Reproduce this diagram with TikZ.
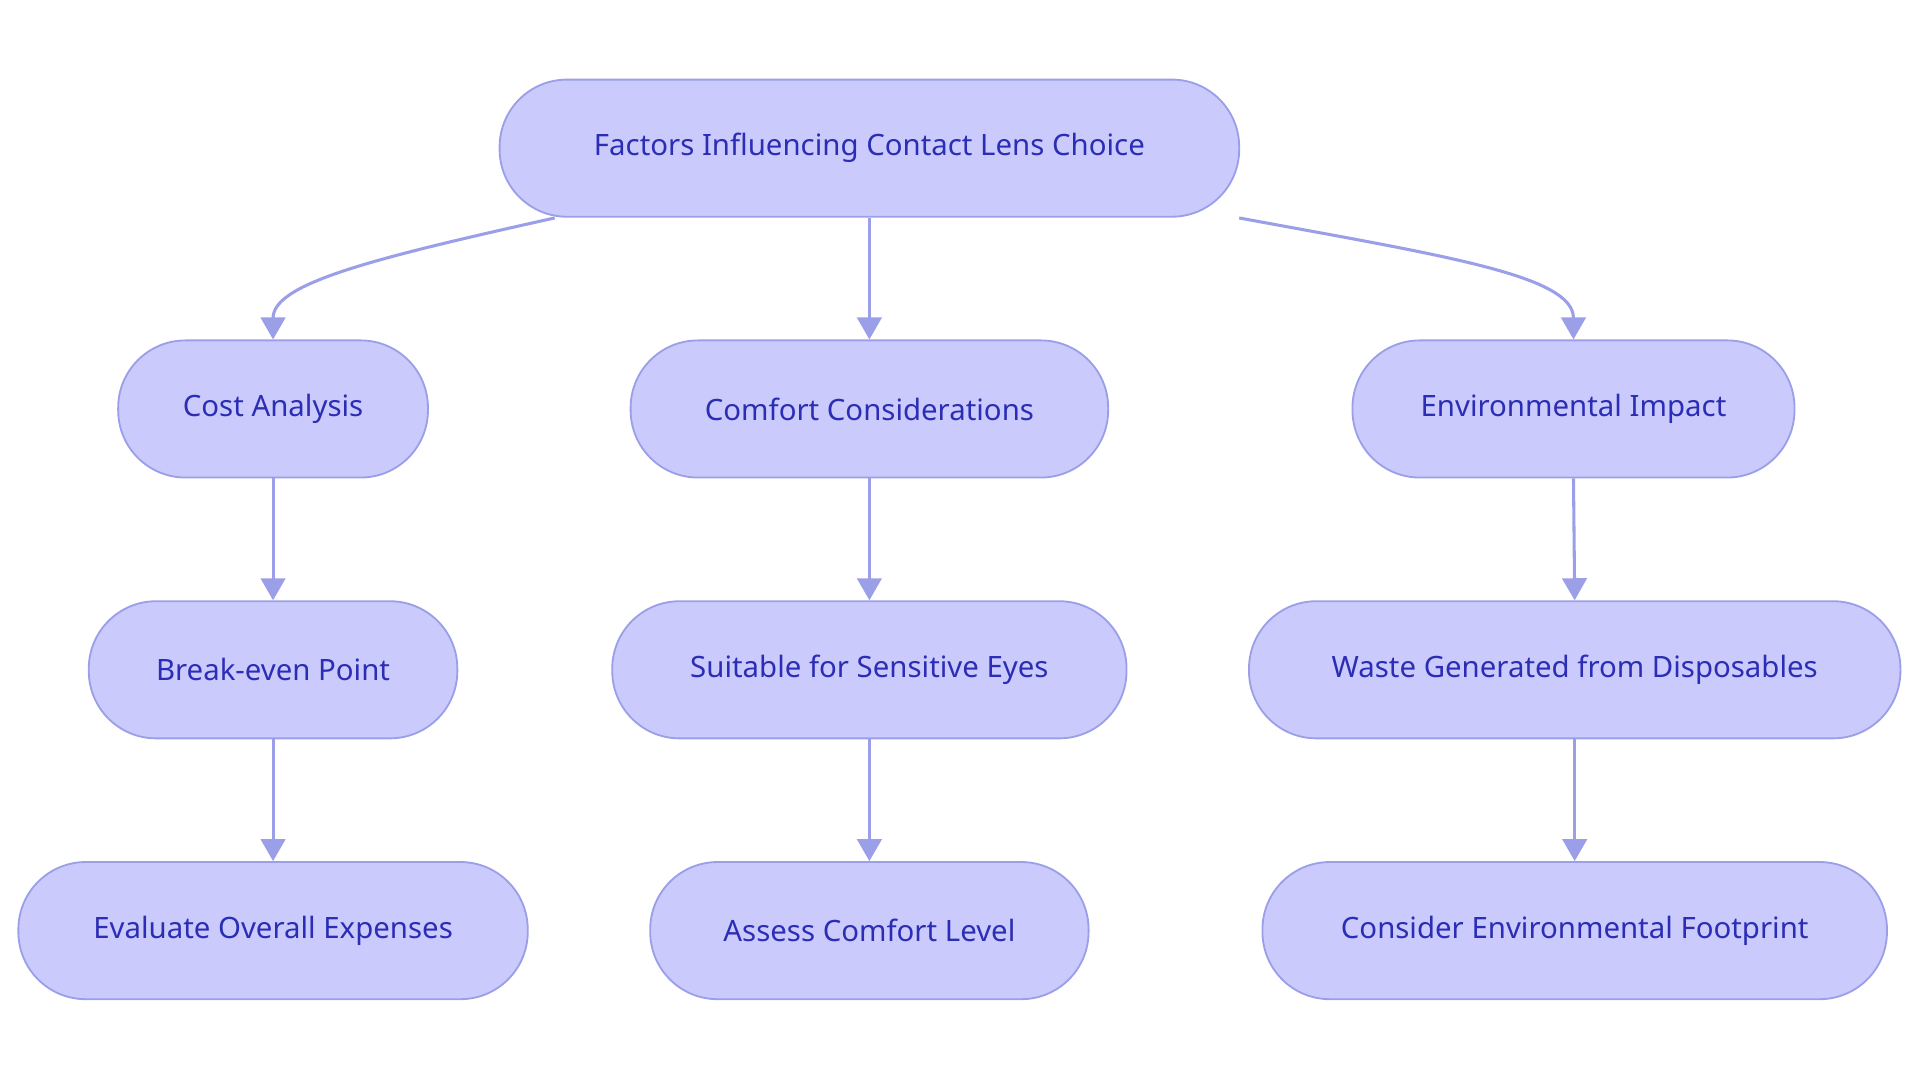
\documentclass[tikz,border=0pt]{standalone}
\usepackage{fontspec}
\setmainfont{Noto Sans}
\usetikzlibrary{arrows.meta}
\definecolor{nfill}{HTML}{CACBFC}
\definecolor{nline}{HTML}{9B9FE8}
\definecolor{ntext}{HTML}{2C2DB5}
\begin{document}
\begin{tikzpicture}[x=1pt,y=-1pt,
  box/.style={draw=nline,fill=nfill,line width=1.5pt,rounded corners=55pt,minimum height=112pt,text=ntext,font=\fontsize{24}{28}\selectfont,inner sep=0pt},
  arr/.style={draw=nline,line width=2.5pt,-{Triangle[length=18pt,width=20pt]}}]
\useasboundingbox (0,0) rectangle (1568,882);
\node[box,minimum width=604pt] (top) at (710,121) {Factors Influencing Contact Lens Choice};
\node[box,minimum width=253pt] (cost) at (223,334) {Cost Analysis};
\node[box,minimum width=390pt] (comf) at (710,334) {Comfort Considerations};
\node[box,minimum width=361pt] (env) at (1285,334) {Environmental Impact};
\node[box,minimum width=301pt] (brk) at (223,547) {Break-even Point};
\node[box,minimum width=420pt] (suit) at (710,547) {Suitable for Sensitive Eyes};
\node[box,minimum width=532pt] (waste) at (1286,547) {Waste Generated from Disposables};
\node[box,minimum width=416pt] (eval) at (223,760) {Evaluate Overall Expenses};
\node[box,minimum width=358pt] (assess) at (710,760) {Assess Comfort Level};
\node[box,minimum width=510pt] (cons) at (1286,760) {Consider Environmental Footprint};
\coordinate (tl) at (453,178);
\coordinate (tr) at (1012,178);
\draw[arr] (tl) .. controls (300,212) and (223,232) .. (cost.north);
\draw[arr] (top.south) -- (comf.north);
\draw[arr] (tr) .. controls (1180,209) and (1285,225) .. (env.north);
\draw[arr] (cost) -- (brk);
\draw[arr] (brk) -- (eval);
\draw[arr] (comf) -- (suit);
\draw[arr] (suit) -- (assess);
\draw[arr] (env.south) -- (waste.north);
\draw[arr] (waste) -- (cons);
\end{tikzpicture}
\end{document}
